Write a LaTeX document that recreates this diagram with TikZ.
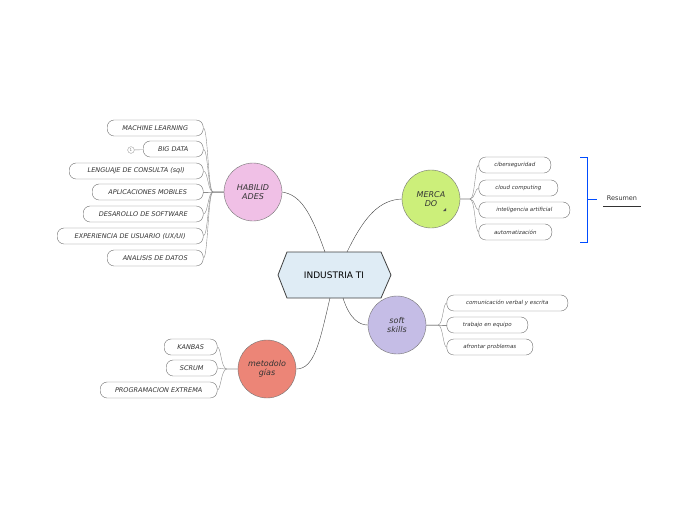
\documentclass[tikz,border=0pt]{standalone}
\usepackage{fontspec}
\setmainfont{DejaVu Sans}
\begin{document}
\begin{tikzpicture}[x=1pt,y=-1pt,
 leaf/.style={draw=black!55,rounded corners=7pt,minimum height=16pt,inner xsep=4pt,font=\fontsize{6.5}{7}\selectfont\itshape,text=black!80,fill=white},
 topic/.style={circle,draw=black!55,minimum size=58pt,font=\fontsize{8}{9}\selectfont\itshape,align=center,text=black!80},
 conn/.style={draw=black!75,thin},
 sub/.style={draw=black!45,thin}]
\useasboundingbox (0,0) rectangle (697,520);
\draw[black!75,fill={rgb,255:red,223;green,236;blue,245},thick] (287,252)--(381,252)--(391,275)--(381,298)--(287,298)--(278,275)--cycle;
\node[font=\fontsize{9}{10}\selectfont] (c) at (334,275) {INDUSTRIA TI};
\node[topic,fill={rgb,255:red,240;green,192;blue,230}] (h) at (253,192) {HABILID\\ADES};
\node[topic,fill={rgb,255:red,204;green,239;blue,122}] (m) at (431,199) {MERCA\\DO};
\node[topic,fill={rgb,255:red,197;green,189;blue,230}] (s) at (397,325) {soft\\skills};
\node[topic,fill={rgb,255:red,236;green,133;blue,119}] (g) at (267,369) {metodolo\\gías};
\fill[black!70] (446,208)--(446,211)--(443,211)--cycle;
\draw[conn] (325,252) .. controls (310,210) and (300,195) .. (h.east);
\draw[conn] (347,252) .. controls (365,215) and (380,200) .. (m.west);
\draw[conn] (343,298) .. controls (350,320) and (360,325) .. (s.west);
\draw[conn] (330,298) .. controls (320,340) and (315,369) .. (g.east);
% habilidades leaves
\foreach \n/\l/\y/\t in {h1/107/128/{MACHINE LEARNING},h2/143/149/{BIG DATA},h3/69/171/{LENGUAJE DE CONSULTA (sql)},h4/92/192/{APLICACIONES MOBILES},h5/83/214/{DESAROLLO DE SOFTWARE},h6/57/236/{EXPERIENCIA DE USUARIO (UX/UI)},h7/107/258/{ANALISIS DE DATOS}}{
 \node[leaf,minimum width={203-\l},anchor=west,align=right] (\n) at (\l,\y) {\hfill\t};
 \draw[sub] (h.west)--(213,192) .. controls (208,192) and (208,\y) .. (\n.east);}
\node[circle,draw=black!40,inner sep=1pt,font=\fontsize{4}{4}\selectfont,text=black!50] (one) at (131,150) {1};
\draw[sub] (one)--(h2);
% metodologias
\foreach \n/\l/\y/\t in {g1/164/347/{KANBAS},g2/166/368/{SCRUM},g3/100/390/{PROGRAMACION EXTREMA}}{
 \node[leaf,minimum width={217-\l},anchor=west] (\n) at (\l,\y) {\t};
 \draw[sub] (g.west)--(227,369) .. controls (221,369) and (221,\y) .. (\n.east);}
% mercado
\foreach \n/\r/\y/\t in {m1/551/165/{ciberseguridad},m2/558/188/{cloud computing},m3/570/210/{inteligencia artificial},m4/552/232/{automatización}}{
 \node[leaf,minimum width={\r-479},anchor=east,font=\fontsize{5.5}{6}\selectfont\itshape] (\n) at (\r,\y) {\t};
 \draw[sub] (m.east)--(470,199) .. controls (475,199) and (475,\y) .. (\n.west);}
% soft skills
\foreach \n/\r/\y/\t in {s1/568/303/{comunicación verbal y escrita},s2/528/325/{trabajo en equipo},s3/533/347/{afrontar problemas}}{
 \node[leaf,minimum width={\r-447},anchor=east,font=\fontsize{5.5}{6}\selectfont\itshape] (\n) at (\r,\y) {\t};
 \draw[sub] (s.east)--(438,325) .. controls (443,325) and (443,\y) .. (\n.west);}
% bracket
\coordinate (b1) at (580,157); \coordinate (b2) at (580,242);
\draw[blue!70!cyan,thick] (b1)--(587,157)--(587,242)--(b2);
\coordinate (bm) at (587,199); \coordinate (be) at (597,199);
\draw[blue!70!cyan,thick] (bm)--(be);
\node[font=\fontsize{6.5}{7}\selectfont,text=black!80] (r) at (622,198) {Resumen};
\coordinate (u1) at (603,206); \coordinate (u2) at (641,206);
\draw[black!80,thick] (u1)--(u2);
\end{tikzpicture}
\end{document}
